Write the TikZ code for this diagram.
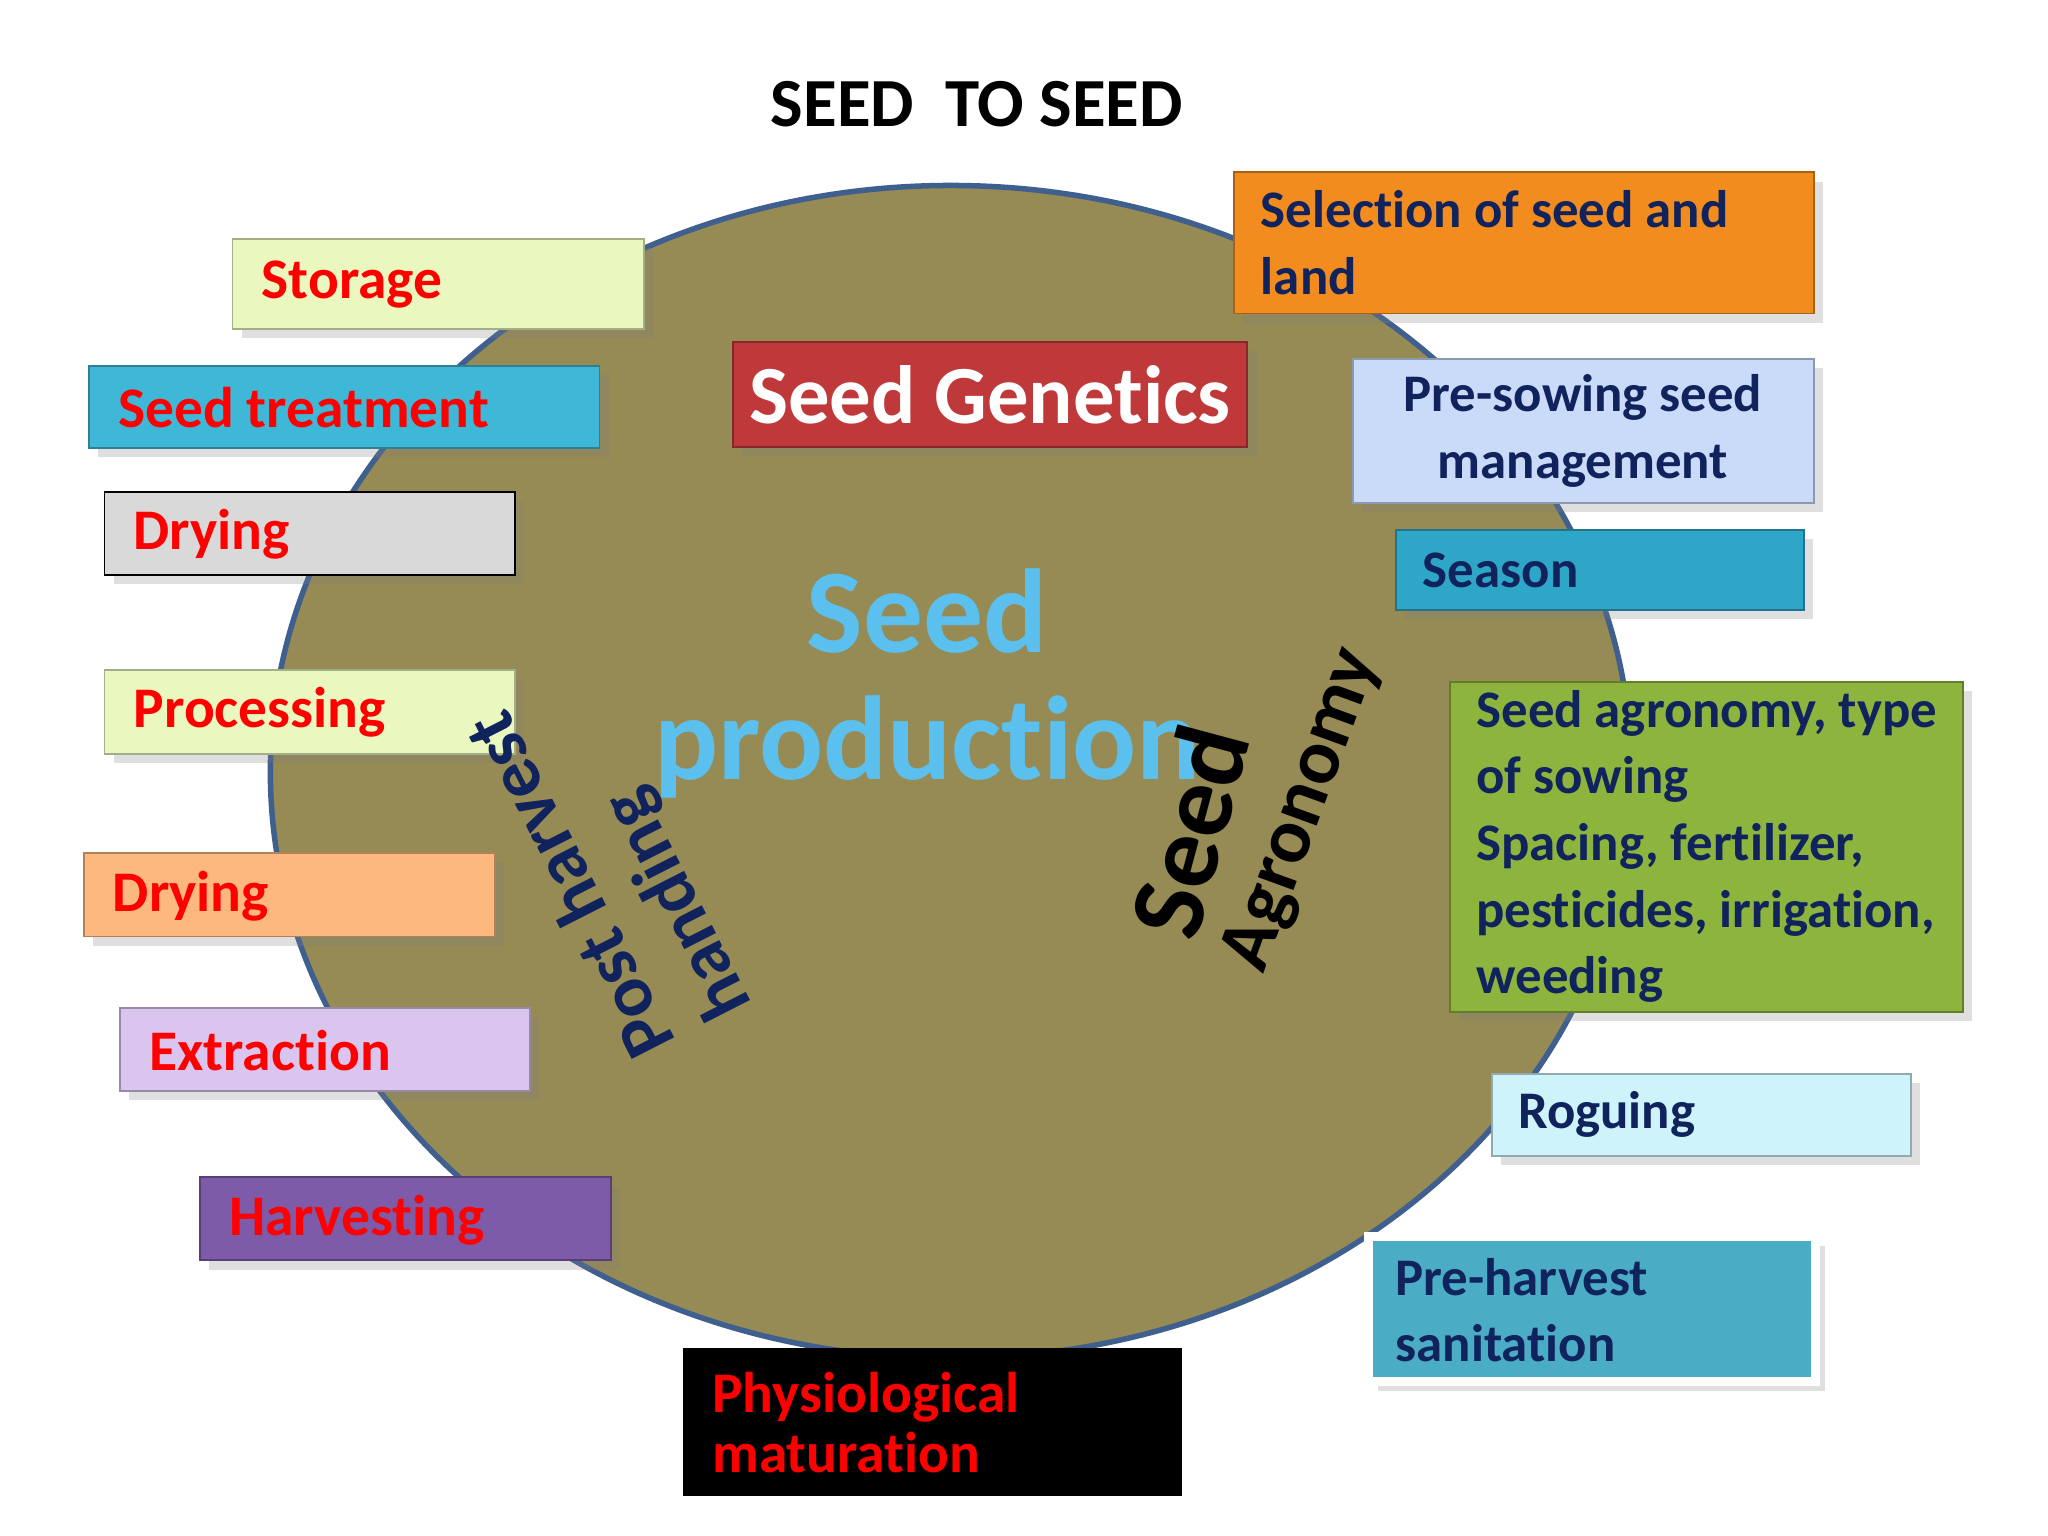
\documentclass[tikz,border=0pt]{standalone}
\usepackage{fontspec}
\setmainfont{Carlito}[Ligatures=NoCommon]
\usetikzlibrary{shadows}
\definecolor{olive}{HTML}{968A55}
\definecolor{rim}{HTML}{3F5F8F}
\definecolor{navy}{HTML}{10235C}
\definecolor{sky}{HTML}{5BC0EE}
\begin{document}
\begin{tikzpicture}[x=0.01cm,y=-0.01cm,
  box/.style={draw=#1!70!black,fill=#1,drop shadow={opacity=0.25,shadow xshift=2pt,shadow yshift=-2pt}},
  lab/.style={anchor=west,font=\bfseries\fontsize{12.5}{15}\selectfont,text=red},
  nlab/.style={anchor=west,font=\bfseries\fontsize{11.5}{14.5}\selectfont,text=navy,align=left}]
\useasboundingbox (0,0) rectangle (1568,1176);
\node (title) at (748,80) {\bfseries\fontsize{15}{18}\selectfont SEED\ \ TO SEED};
\draw[rim,line width=1.2pt,fill=olive] (728,591) ellipse [x radius=521,y radius=449];

% left column
\definecolor{c1}{HTML}{EAF8C0}\definecolor{c2}{HTML}{3FB8D8}\definecolor{c3}{HTML}{D9D9D9}
\definecolor{c4}{HTML}{FDB880}\definecolor{c5}{HTML}{D9C5EE}\definecolor{c6}{HTML}{7E5BA8}
\draw[box=c1] (178,183) rectangle (493,252); \node[lab] (st) at (188,218) {Storage};
\draw[box=c2] (68,280) rectangle (459,343); \node[lab] (tr) at (78,312) {Seed treatment};
\draw[box=c3,draw=black] (80,377) rectangle (394,440); \node[lab] (d1) at (90,409) {Drying};
\draw[box=c1] (80,513) rectangle (394,577); \node[lab] (pr) at (90,545) {Processing};
\draw[box=c4] (64,653) rectangle (379,717); \node[lab] (d2) at (74,686) {Drying};
\draw[box=c5] (92,772) rectangle (406,835); \node[lab] (ex) at (102,804) {Extraction};
\draw[box=c6] (153,901) rectangle (468,965); \node[lab] (ha) at (163,934) {Harvesting};
\fill (523,1032) rectangle (905,1145);
\node[lab,align=left] (ph) at (533,1089) {Physiological\\[-2pt]maturation};

% right column
\definecolor{r1}{HTML}{F28C1E}\definecolor{r2}{HTML}{C9DBF8}\definecolor{r3}{HTML}{2EA6C8}
\definecolor{r4}{HTML}{8DB43C}\definecolor{r5}{HTML}{CFF3FB}\definecolor{r6}{HTML}{4BACC6}
\definecolor{gen}{HTML}{C0393A}
\draw[box=gen] (561,262) rectangle (955,342);
\node (sg) at (758,302) {\bfseries\fontsize{18}{22}\selectfont\color{white}Seed Genetics};
\draw[box=r1] (945,132) rectangle (1389,240);
\node[nlab] (se) at (953,186) {Selection of seed and\\land};
\draw[box=r2] (1036,275) rectangle (1389,385);
\node[nlab,align=center,anchor=center] (ps) at (1212,330) {Pre-sowing seed\\management};
\draw[box=r3] (1069,406) rectangle (1381,467); \node[nlab] (sea) at (1077,437) {Season};
\draw[box=r4] (1110,522) rectangle (1503,775);
\node[nlab] (ag) at (1118,648) {Seed agronomy, type\\of sowing\\Spacing, fertilizer,\\pesticides, irrigation,\\weeding};
\draw[box=r5] (1142,822) rectangle (1463,885); \node[nlab] (ro) at (1150,853) {Roguing};
\draw[box=r6,draw=white,line width=2pt] (1048,947) rectangle (1390,1058);
\node[nlab] (phs) at (1056,1003) {Pre-harvest\\sanitation};

% central texts
\node[text=sky,font=\bfseries\fontsize{26}{30}\selectfont] (s1) at (710,468) {Seed};
\node[text=sky,font=\bfseries\fontsize{26}{30}\selectfont] (s2) at (710,572) {production};
\node[text=navy,font=\bfseries\fontsize{16}{20}\selectfont,rotate=117] (pos) at (435,678) {Post harvest};
\node[text=navy,font=\bfseries\fontsize{16}{20}\selectfont,rotate=117] (han) at (520,692) {handing};
\node[font=\bfseries\fontsize{23}{28}\selectfont,rotate=75] (sa) at (910,636) {Seed};
\node[font=\bfseries\fontsize{17}{22}\selectfont,rotate=70] (agr) at (998,620) {Agronomy};
\end{tikzpicture}
\end{document}
